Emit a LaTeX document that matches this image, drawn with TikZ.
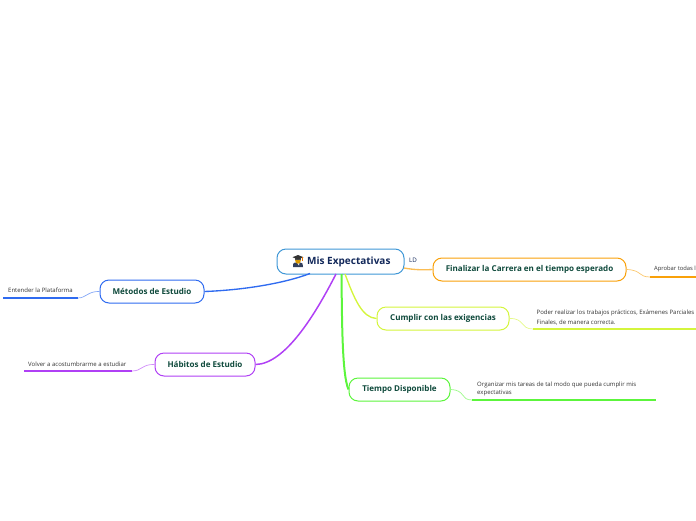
\documentclass[tikz,border=0pt]{standalone}
\usepackage{fontspec}
\setmainfont{Open Sans}
\definecolor{cblue}{HTML}{2F6BF0}
\definecolor{cpurple}{HTML}{B040F5}
\definecolor{cgreen}{HTML}{5CF53C}
\definecolor{cyellow}{HTML}{D4F53C}
\definecolor{corange}{HTML}{F9A10A}
\definecolor{ctext}{HTML}{0F4A3C}
\definecolor{cnavy}{HTML}{12285A}
\definecolor{cmain}{HTML}{3F97D6}
\tikzset{
  x=1pt,y=-1pt,
  topic/.style={draw=#1,line width=1pt,rounded corners=9pt,fill=white,inner sep=0pt,font=\fontsize{8.05}{10}\selectfont\bfseries,text=ctext,anchor=center},
  leaf/.style={font=\fontsize{6}{9.5}\selectfont,text=black!80,inner sep=0pt,align=left},
  branch/.style={draw=#1,line width=1.35pt},
  twig/.style={draw=#1!60,line width=.7pt},
  rule/.style={draw=#1,line width=1.5pt},
}
\begin{document}
\begin{tikzpicture}
\useasboundingbox (0,0) rectangle (696,520);
% nodes
\node[topic=cmain,minimum width=127pt,minimum height=25pt,text=cnavy] (main) at (340.5,261.5) {};
\node[font=\fontsize{10}{11}\selectfont\bfseries,text=cnavy,inner sep=0pt,anchor=west] (mainlabel) at (307,261.5) {Mis Expectativas};
\node[topic=corange,minimum width=193pt,minimum height=23pt] (fin) at (529.5,269.5) {Finalizar la Carrera en el tiempo esperado};
\node[topic=cyellow,minimum width=132pt,minimum height=23pt] (cum) at (443,318.5) {Cumplir con las exigencias};
\node[topic=cgreen,minimum width=101pt,minimum height=23pt] (tie) at (399.5,389.5) {Tiempo Disponible};
\node[topic=cblue,minimum width=104pt,minimum height=23pt] (met) at (152,291.5) {Métodos de Estudio};
\node[topic=cpurple,minimum width=100pt,minimum height=23pt] (hab) at (205,364.5) {Hábitos de Estudio};
\node[font=\fontsize{6.2}{8}\selectfont,text=cnavy,inner sep=0pt] (ld) at (413,260) {LD};
% free ends
\coordinate (mb) at (310,273.5);
\coordinate (mp) at (336,274);
\coordinate (mg) at (341.5,274);
\coordinate (my) at (345,274);
\coordinate (mo) at (404,268);
\coordinate (ufin) at (650,277);
\coordinate (ufinr) at (696,277);
\coordinate (ucum) at (533,329);
\coordinate (ucumr) at (696,329);
\coordinate (utie) at (472,400);
\coordinate (utier) at (656,400);
\coordinate (umet) at (78,298);
\coordinate (umetl) at (3,298);
\coordinate (uhab) at (132,371);
\coordinate (uhabl) at (24,371);
% branches
\draw[branch=corange!70] (mo) .. controls (415,270) and (424,270) .. (fin.west);
\draw[branch=cblue] (mb) .. controls (285,283) and (245,290) .. (met.east);
\draw[branch=cpurple,line width=1.5pt] (mp) .. controls (315,315) and (285,364) .. (hab.east);
\draw[branch=cgreen,line width=2pt] (mg) .. controls (342,320) and (342,375) .. (tie.west);
\draw[branch=cyellow] (my) .. controls (354,298) and (362,318) .. (cum.west);
% twigs
\draw[twig=corange] (fin.east) .. controls (642,270) and (638,277) .. (ufin);
\draw[twig=cyellow] (cum.east) .. controls (525,318) and (520,329) .. (ucum);
\draw[twig=cgreen] (tie.east) .. controls (466,390) and (460,400) .. (utie);
\draw[twig=cblue] (met.west) .. controls (88,291) and (86,298) .. (umet);
\draw[twig=cpurple] (hab.west) .. controls (142,364) and (142,371) .. (uhab);
% underlines
\draw[rule=corange] (ufin) -- (ufinr);
\draw[rule=cyellow] (ucum) -- (ucumr);
\draw[rule=cgreen] (utie) -- (utier);
\draw[rule=cblue] (umet) -- (umetl);
\draw[rule=cpurple] (uhab) -- (uhabl);
% leaf text
\node[leaf,anchor=west,font=\fontsize{5.8}{9.5}\selectfont] (t1) at (654,268.5) {Aprobar todas l};
\node[leaf,anchor=base west] (t2) at (536.5,324.2) {Poder realizar los trabajos prácticos, Exámenes Parciales\\Finales, de manera correcta.};
\node[leaf,anchor=base west] (t3) at (477,394.5) {Organizar mis tareas de tal modo que pueda cumplir mis\\[-1pt]expectativas};
\node[leaf,anchor=west] (t4) at (8,290.5) {Entender la Plataforma};
\node[leaf,anchor=west] (t5) at (28,364) {Volver a acostumbrarme a estudiar};
% graduate icon
\fill[cnavy!70!black!85] (293,267) -- (293.3,263.5) .. controls (294,262) and (301,262) .. (302.5,263.5) -- (303,267) -- cycle;
\fill[white] (297,262.5) -- (299,265.5) -- (299.5,262.5) -- cycle;
\fill[black!70] (294.6,258) rectangle (301.4,260);
\fill[orange!60!yellow!85!black] (295.3,259.5) .. controls (295.3,264.5) and (300.7,264.5) .. (300.7,259.5) -- cycle;
\fill[black!80] (292.5,257.2) -- (298,255) -- (303.5,257.2) -- (298,259.4) -- cycle;
\draw[orange!90!black,line width=.4pt] (302.6,257.3) -- (302.6,260.5);
\end{tikzpicture}
\end{document}
